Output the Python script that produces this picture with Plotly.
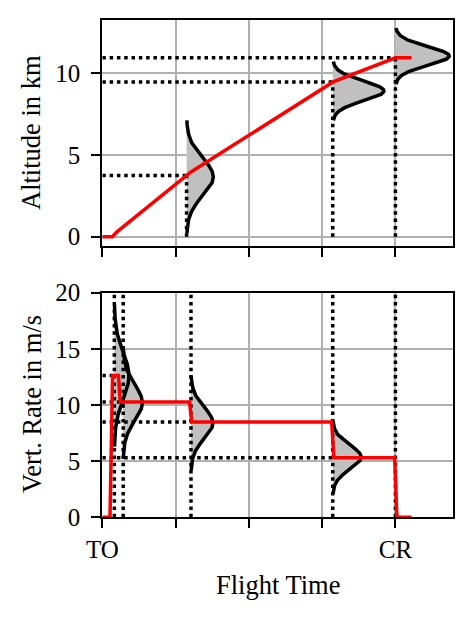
import numpy as np
import plotly.graph_objects as go

# flight time axis (arbitrary units)
time_ticks = [0, 1, 2, 3, 4]
time_labels = ['TO', '', '', '', 'CR']

# altitude profile in km
alt_time = [0, 0.137, 0.2, 1.21, 3.15, 4.0, 4.22]
alt_km = [0, 0, 0.3, 3.95, 9.45, 10.92, 10.92]

# vertical rate profile in m/s
rate_time = [0, 0.105, 0.14, 0.22, 0.245, 1.19, 1.22, 3.13, 3.16, 3.99, 4.02, 4.22]
rate_ms = [0, 0, 12.63, 12.63, 10.26, 10.26, 8.49, 8.49, 5.3, 5.3, 0, 0]

# altitude distributions (position on time axis, mean, std) and marked values
alt_dist_time = [1.15, 3.145, 4.0]
alt_dist_mean = [3.65, 8.9, 11.03]
alt_dist_std = [1.15, 0.6, 0.57]
alt_mark = [3.73, 9.45, 10.92]

# vertical rate distributions and marked values
rate_dist_time = [0.164, 0.285, 1.21, 3.145]
rate_dist_mean = [12.6, 10.2, 8.4, 5.35]
rate_dist_std = [2.1, 1.6, 1.4, 1.08]
rate_mark = [12.63, 10.26, 8.49, 5.3]
rate_cut_time = [0.164, 0.285, 1.21, 3.145, 4.0]

PDF_SCALE = 1.05
FONT = 'Liberation Serif'
DOT = dict(color='black', width=3.5, dash='3.5px,3.8px')

fig = go.Figure()


def add_dist(x0, mu, sd, xa, ya):
    y = np.linspace(mu - 3 * sd, mu + 3 * sd, 200)
    w = PDF_SCALE * np.exp(-0.5 * ((y - mu) / sd) ** 2) / (sd * np.sqrt(2 * np.pi))
    fig.add_trace(go.Scatter(x=np.concatenate([[x0], x0 + w, [x0]]),
                             y=np.concatenate([[y[0]], y, [y[-1]]]),
                             fill='toself', fillcolor='#c0c0c0', mode='lines',
                             line=dict(width=0), xaxis=xa, yaxis=ya, showlegend=False))
    return x0 + w, y


def add_curve(x, y, xa, ya):
    fig.add_trace(go.Scatter(x=x, y=y, mode='lines', line=dict(color='black', width=3.5),
                             xaxis=xa, yaxis=ya, showlegend=False))


# top panel: altitude
curves = [add_dist(t, m, s, 'x', 'y') for t, m, s in zip(alt_dist_time, alt_dist_mean, alt_dist_std)]
dx, dy = [], []
for t, m in zip(alt_dist_time, alt_mark):
    dx += [0, t, None, t, t, None]
    dy += [m, m, None, 0, m, None]
fig.add_trace(go.Scatter(x=dx, y=dy, mode='lines', line=DOT, xaxis='x', yaxis='y', showlegend=False))
for cx, cy in curves:
    add_curve(cx, cy, 'x', 'y')
fig.add_trace(go.Scatter(x=alt_time, y=alt_km, mode='lines', line=dict(color='red', width=3.5),
                         xaxis='x', yaxis='y', showlegend=False))

# bottom panel: vertical rate
curves = [add_dist(t, m, s, 'x2', 'y2') for t, m, s in zip(rate_dist_time, rate_dist_mean, rate_dist_std)]
dx, dy = [], []
for t in rate_cut_time:
    dx += [t, t, None]
    dy += [0, 20, None]
for t, m in zip(rate_dist_time, rate_mark):
    dx += [0, t, None]
    dy += [m, m, None]
fig.add_trace(go.Scatter(x=dx, y=dy, mode='lines', line=DOT, xaxis='x2', yaxis='y2', showlegend=False))
for cx, cy in curves:
    add_curve(cx, cy, 'x2', 'y2')
fig.add_trace(go.Scatter(x=rate_time, y=rate_ms, mode='lines', line=dict(color='red', width=3.5),
                         xaxis='x2', yaxis='y2', showlegend=False))

axis_style = dict(showline=True, linecolor='black', linewidth=2, mirror=True,
                  ticks='outside', ticklen=9, tickwidth=1.8, tickcolor='black',
                  showgrid=True, gridcolor='#b0b0b0', gridwidth=1.8, zeroline=False,
                  automargin=False, layer='above traces',
                  tickfont=dict(family=FONT, size=25, color='black'))

# page body adds 8px, so the figure is 466x610
fig.update_layout(
    template='none',
    width=466, height=610,
    margin=dict(l=0, r=0, t=0, b=0, pad=0),
    paper_bgcolor='white', plot_bgcolor='white',
    xaxis=dict(axis_style, domain=[0.2024, 0.9556], range=[0, 4.79], anchor='y',
               tickvals=time_ticks, showticklabels=False),
    yaxis=dict(axis_style, domain=[0.6098, 0.9803], range=[-0.57, 13.23], anchor='x',
               tickvals=[0, 5, 10], ticklabelstandoff=6),
    xaxis2=dict(axis_style, domain=[0.2024, 0.9556], range=[0, 4.79], anchor='y2',
                tickvals=time_ticks, ticktext=time_labels),
    yaxis2=dict(axis_style, domain=[0.1651, 0.5333], range=[0, 20], anchor='x2',
                tickvals=[0, 5, 10, 15, 20], ticklabelstandoff=6),
    annotations=[
        dict(text='Altitude in km', x=0.0494, y=0.7951, xref='paper', yref='paper',
             textangle=-90, showarrow=False, xanchor='center', yanchor='middle',
             font=dict(family=FONT, size=26.5, color='black')),
        dict(text='Vert. Rate in m/s', x=0.0515, y=0.3508, xref='paper', yref='paper',
             textangle=-90, showarrow=False, xanchor='center', yanchor='middle',
             font=dict(family=FONT, size=26.5, color='black')),
        dict(text='Flight Time', x=0.579, y=0.0541, xref='paper', yref='paper',
             showarrow=False, xanchor='center', yanchor='middle',
             font=dict(family=FONT, size=26.5, color='black')),
    ],
)

fig.write_html('out.html')
